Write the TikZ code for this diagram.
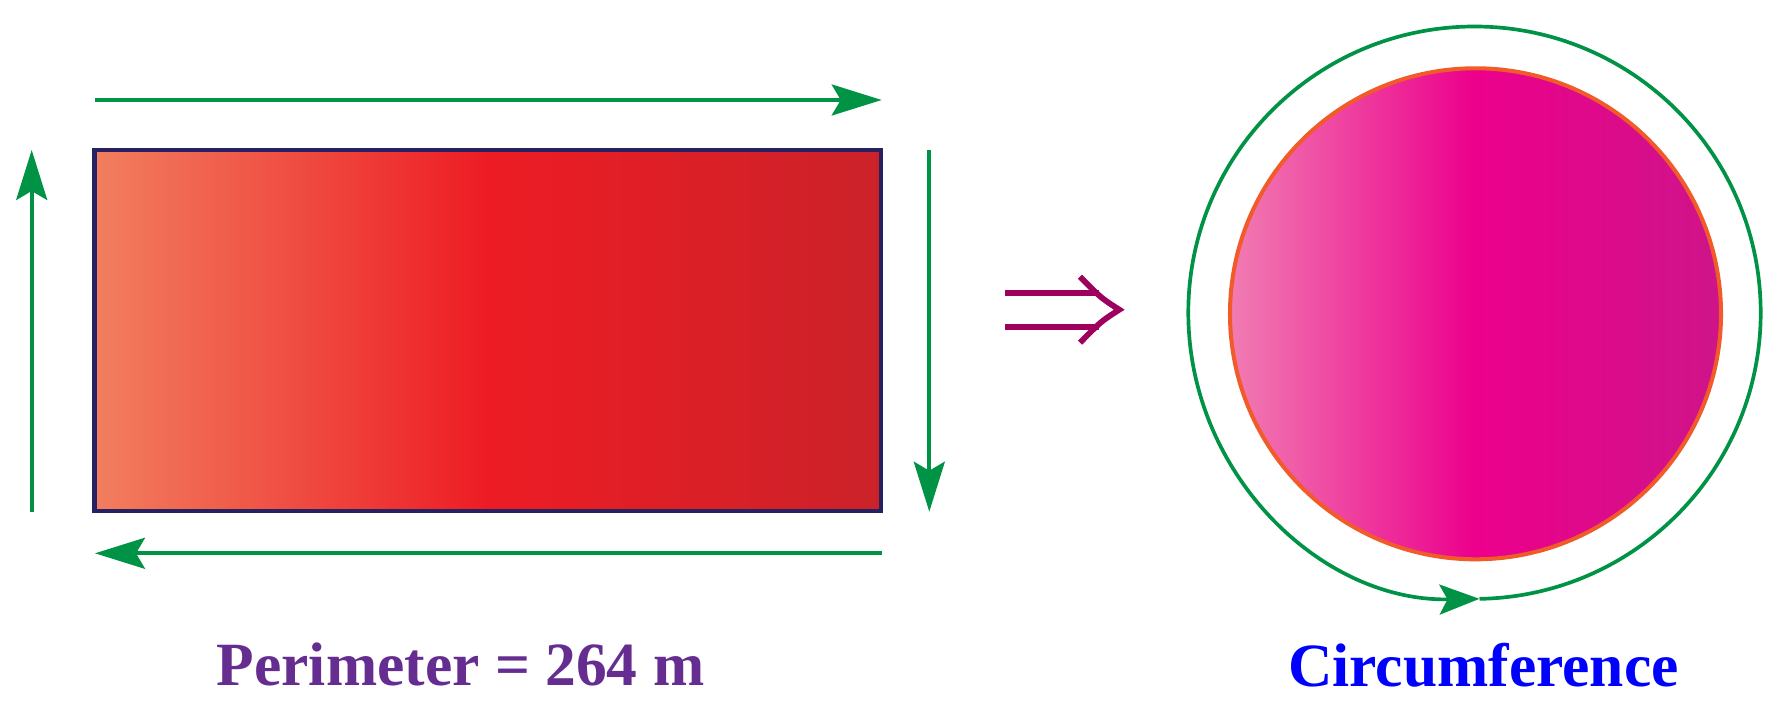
\documentclass[tikz,border=0pt]{standalone}
\usepackage{fontspec}
\setmainfont{Liberation Serif}
\usetikzlibrary{arrows.meta}
\definecolor{arrgreen}{HTML}{009245}
\definecolor{rectnavy}{HTML}{262262}
\definecolor{circorange}{HTML}{F15A29}
\definecolor{impl}{HTML}{9E005D}
\definecolor{perimpurple}{HTML}{662D91}
\begin{document}
\begin{tikzpicture}[x=0.02cm, y=-0.02cm,
		garrow/.style={draw=arrgreen, line width=2.1pt, -{Stealth[length=1cm, width=0.62cm, inset=0.18cm]}},
		bigtext/.style={anchor=base, font=\bfseries\fontsize{35}{42}\selectfont}]
		\useasboundingbox (0,0) rectangle (1779,719);
		\shade[draw=rectnavy, line width=2.3pt, left color={rgb,255:red,242;green,126;blue,95}, right color={rgb,255:red,203;green,34;blue,41}, middle color={rgb,255:red,237;green,28;blue,36}] (94.5,150.3) rectangle (881.3,511.3);
		\draw[garrow] (94.5,100) -- (881.7,100);
		\draw[garrow] (929.3,150.3) -- (929.3,511.7);
		\draw[garrow] (881.7,553.3) -- (95,553.3);
		\draw[garrow] (31.7,512.3) -- (31.7,150);
		\draw[impl, line width=3.3pt] (1005,292.7) -- (1099,292.7);
		\draw[impl, line width=3.3pt] (1005,326.7) -- (1099,326.7);
		\draw[impl, line width=3.3pt] (1080,276.7) .. controls (1101,298) .. (1119.3,309.7) .. controls (1101,321.4) .. (1080,342.7);
		\shade[draw=circorange, line width=2.3pt, left color={rgb,255:red,241;green,124;blue,178}, right color={rgb,255:red,206;green,20;blue,137}, middle color={rgb,255:red,236;green,0;blue,140}] (1475.5,313.8) circle (245.5);
		\draw[garrow, -{Stealth[length=0.8cm, width=0.6cm, inset=0.16cm]}] (1474.5,312.7) ++(89:286.2) arc[start angle=89, end angle=-271, radius=286.2];
		\node[bigtext, text=perimpurple] (perim) at (460.5,685) {Perimeter = 264 m};
		\node[bigtext, text=blue] (circum) at (1483.5,686) {Circumference};
	\end{tikzpicture}
\end{document}
